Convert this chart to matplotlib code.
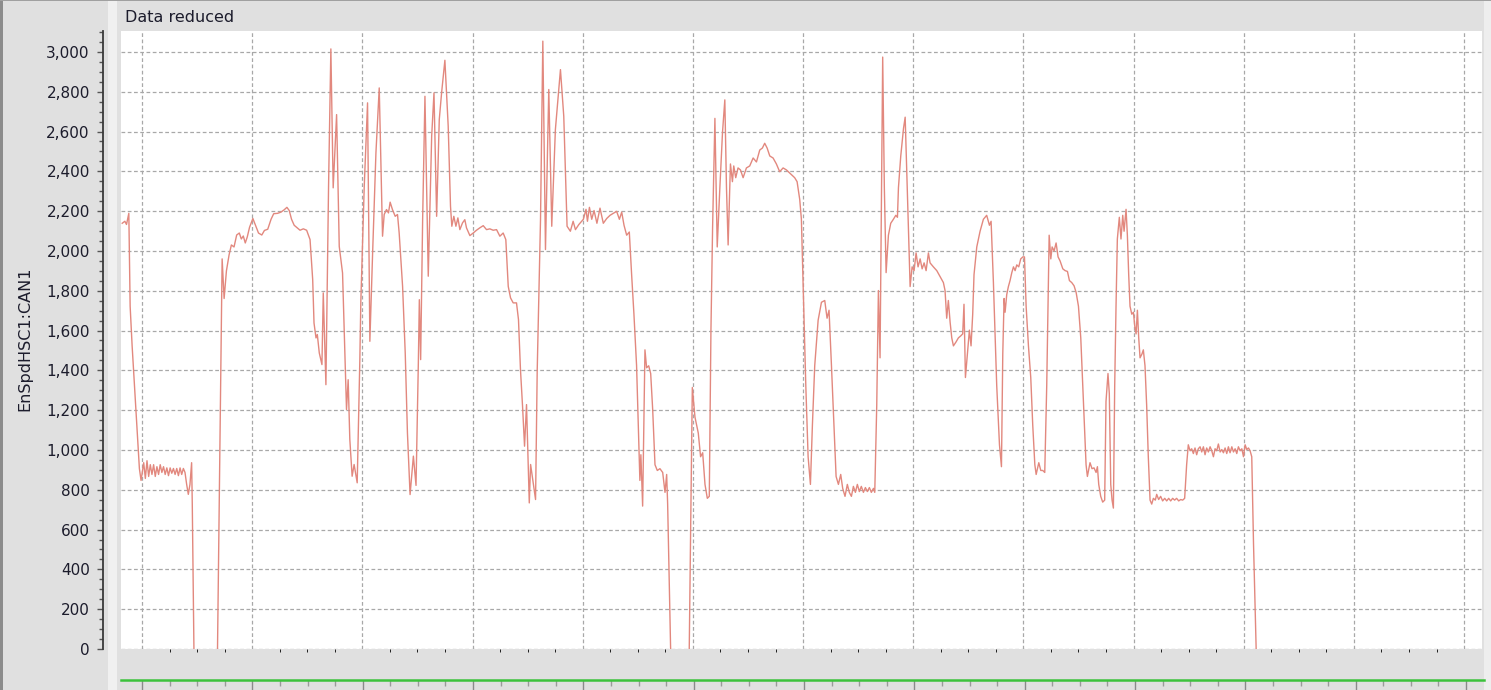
import matplotlib
matplotlib.use("Agg")
import matplotlib.pyplot as plt
import matplotlib.ticker as mtick
from matplotlib.patches import Rectangle
import numpy as np

#-------------------------------------------------------------------------------
# data: (sample time, EnSpdHSC1:CAN1)
# time units are arbitrary, 100 per vertical grid division
seg1 = [(-18.0, 2139), (-15.6, 2149), (-14.1, 2133), (-12.0, 2189), (-10.8, 1722),
        (-9.0, 1523), (-7.5, 1384), (-4.5, 1105), (-2.4, 906), (-0.9, 847),
        (1.5, 936), (3.0, 857), (4.5, 946), (6.0, 867), (7.5, 926), (9.0, 877),
        (10.5, 926), (12.0, 867), (13.5, 916), (15.0, 877), (16.5, 926), (18.0, 887),
        (19.5, 916), (21.0, 877), (22.5, 910), (24.0, 871), (25.5, 910), (27.0, 883),
        (28.5, 907), (30.0, 877), (31.5, 907), (33.0, 871), (34.5, 910), (36.0, 877),
        (37.5, 907), (39.0, 887), (40.5, 827), (42.0, 777), (43.5, 827), (45.0, 936),
        (45.6, 728), (47.1, 0)]

seg2 = [(68.5, 0), (72.7, 1960), (74.5, 1761), (76.6, 1900), (79.0, 1980), (81.1, 2030),
        (83.5, 2020), (85.9, 2080), (88.3, 2090), (90.1, 2060), (91.9, 2075), (93.7, 2040),
        (95.5, 2070), (97.6, 2119), (100.6, 2163), (103.0, 2129), (105.7, 2090),
        (108.7, 2080), (111.1, 2103), (114.1, 2109), (117.1, 2159), (119.5, 2187),
        (123.1, 2189), (126.1, 2195), (129.1, 2207), (131.5, 2219), (133.6, 2203),
        (135.7, 2159), (138.1, 2129), (141.1, 2115), (143.4, 2104), (146.4, 2111),
        (149.4, 2104), (152.5, 2057), (154.9, 1856), (156.1, 1638), (157.9, 1563),
        (159.1, 1580), (160.9, 1487), (163.3, 1429), (164.5, 1789), (166.9, 1328),
        (169.3, 2325), (171.4, 3015), (173.5, 2317), (176.6, 2685), (179.0, 2023),
        (182.0, 1889), (184.1, 1487), (185.6, 1203), (187.1, 1353), (188.6, 1053),
        (190.7, 868), (192.5, 927), (195.3, 835), (197.7, 1454), (198.6, 1747),
        (201.7, 2325), (204.7, 2744), (206.8, 1546), (209.3, 1990), (212.3, 2492),
        (215.3, 2819), (218.3, 2074), (219.8, 2183), (221.9, 2208), (223.7, 2191),
        (225.2, 2245), (227.3, 2208), (229.8, 2174), (231.9, 2183), (233.4, 2090),
        (236.5, 1822), (238.9, 1487), (240.9, 1086), (243.3, 776), (246.3, 969),
        (248.7, 822), (250.8, 1437), (251.7, 1755), (252.9, 1454), (254.7, 2158),
        (256.8, 2777), (259.8, 1873), (262.9, 2576), (265.0, 2794), (267.4, 2174),
        (269.8, 2660), (271.9, 2794), (274.9, 2958), (277.9, 2627), (280.0, 2224),
        (281.2, 2124), (283.0, 2174), (284.9, 2124), (286.7, 2166), (288.5, 2107),
        (290.9, 2141), (293.0, 2157), (294.5, 2116), (297.6, 2077), (300.6, 2090),
        (303.6, 2104), (306.6, 2116), (309.7, 2127), (312.7, 2107), (315.7, 2111),
        (318.7, 2104), (321.8, 2107), (324.8, 2074), (327.8, 2090), (330.2, 2057),
        (332.4, 1822), (334.5, 1764), (336.9, 1739), (339.9, 1739), (341.7, 1655),
        (343.5, 1404), (345.4, 1219), (347.2, 1019), (349.0, 1228), (351.5, 734),
        (352.7, 927), (357.2, 751), (358.7, 1400), (360.2, 1789), (361.7, 2158),
        (363.8, 3054), (366.2, 2007), (369.2, 2811), (371.9, 2124), (375.2, 2610),
        (379.8, 2911), (382.8, 2677), (385.8, 2124), (388.8, 2099), (391.3, 2149),
        (393.4, 2107), (396.4, 2132), (400.6, 2159), (403.0, 2209), (404.3, 2149),
        (406.1, 2219), (408.2, 2159), (410.3, 2203), (412.9, 2139), (415.7, 2215),
        (418.7, 2139), (421.8, 2163), (424.8, 2179), (427.8, 2189), (430.8, 2199),
        (433.3, 2159), (435.4, 2195), (437.5, 2129), (439.9, 2079), (442.3, 2095),
        (444.4, 1881), (446.5, 1682), (448.9, 1423), (450.4, 1125), (451.9, 847),
        (452.8, 976), (454.4, 718), (456.5, 1503), (458.0, 1413), (459.9, 1423),
        (461.7, 1384), (463.5, 1205), (465.6, 926), (467.7, 897), (470.1, 906),
        (472.6, 887), (474.7, 787), (476.2, 877), (477.1, 728), (479.8, 0)]

seg3 = [(496.7, 0), (499.5, 1314), (501.9, 1165), (504.9, 1085), (507.0, 966),
        (508.9, 986), (511.0, 827), (513.1, 757), (514.9, 767), (516.4, 1602),
        (517.9, 2119), (520.0, 2666), (522.1, 2020), (524.5, 2318), (526.9, 2596),
        (529.0, 2759), (530.5, 2318), (532.0, 2030), (534.1, 2437), (535.9, 2348),
        (537.1, 2427), (538.9, 2368), (541.0, 2417), (543.2, 2407), (545.6, 2368),
        (548.6, 2417), (551.6, 2427), (554.7, 2467), (557.7, 2447), (560.7, 2507),
        (563.1, 2517), (565.2, 2541), (567.4, 2517), (569.8, 2477), (572.8, 2467),
        (575.8, 2437), (578.8, 2398), (581.9, 2417), (584.9, 2407), (588.5, 2388),
        (592.4, 2368), (594.6, 2348), (597.0, 2258), (598.5, 2159), (600.6, 1722),
        (602.5, 1324), (604.6, 966), (606.7, 827), (608.5, 1125), (610.6, 1423),
        (613.7, 1652), (616.7, 1742), (619.7, 1751), (621.8, 1662), (623.6, 1702),
        (625.8, 1423), (628.8, 1026), (630.0, 867), (632.1, 827), (634.2, 877),
        (636.0, 807), (638.1, 767), (640.2, 827), (642.0, 787), (643.9, 767),
        (645.7, 817), (647.5, 787), (649.3, 827), (651.1, 791), (652.9, 817),
        (654.8, 787), (656.6, 811), (658.4, 791), (660.2, 811), (662.0, 787),
        (663.9, 807), (665.1, 787), (666.9, 1225), (668.4, 1801), (669.9, 1463),
        (672.3, 2974), (673.8, 2318), (675.4, 1891), (677.5, 2079), (679.6, 2139),
        (682.0, 2159), (684.2, 2179), (685.7, 2169), (686.6, 2318), (688.7, 2477),
        (691.2, 2616), (692.7, 2672), (694.8, 2278), (697.2, 1821), (699.0, 1920),
        (700.8, 1901), (702.6, 1990), (704.4, 1920), (706.3, 1960), (708.1, 1910),
        (709.9, 1940), (711.7, 1901), (713.8, 1990), (715.3, 1940), (718.3, 1920),
        (721.4, 1901), (724.4, 1871), (727.4, 1841), (728.9, 1801), (730.4, 1662),
        (731.9, 1751), (733.5, 1642), (735.0, 1563), (736.5, 1523), (738.9, 1543),
        (741.0, 1563), (743.1, 1573), (744.9, 1583), (746.1, 1732), (747.4, 1364),
        (749.2, 1483), (751.0, 1602), (752.5, 1523), (754.0, 1682), (755.2, 1881),
        (757.7, 2020), (760.7, 2099), (763.7, 2159), (766.7, 2179), (769.2, 2129),
        (770.7, 2149), (772.8, 1841), (775.8, 1324), (778.3, 1026), (780.1, 916),
        (781.3, 1483), (782.5, 1761), (783.4, 1692), (784.9, 1781), (786.4, 1821),
        (787.9, 1851), (789.5, 1891), (791.0, 1920), (792.5, 1901), (794.0, 1930),
        (795.8, 1920), (797.6, 1960), (799.5, 1970), (801.0, 1970), (802.5, 1722),
        (804.6, 1523), (806.7, 1364), (808.5, 1125), (810.4, 926), (811.6, 877),
        (812.8, 906), (814.0, 936), (815.8, 897), (817.6, 897), (819.4, 887),
        (821.2, 1324), (823.4, 2079), (824.9, 1960), (826.1, 2020), (827.9, 2000),
        (829.7, 2040), (831.5, 1970), (833.3, 1950), (835.8, 1910), (837.9, 1901),
        (840.0, 1897), (841.8, 1851), (843.9, 1841), (846.0, 1825), (847.9, 1791),
        (850.0, 1722), (852.1, 1563), (856.9, 926), (858.1, 867), (860.5, 936),
        (862.3, 906), (864.1, 910), (866.0, 887), (867.2, 916), (868.4, 827),
        (870.2, 767), (872.0, 738), (873.8, 748), (875.0, 1244), (876.8, 1384),
        (878.0, 1284), (879.3, 827), (880.5, 748), (881.7, 708), (882.9, 1324),
        (884.1, 1722), (885.3, 2060), (887.1, 2169), (888.6, 2060), (890.2, 2179),
        (891.4, 2099), (893.2, 2209), (894.4, 2079), (895.6, 1881), (896.8, 1722),
        (898.4, 1682), (899.9, 1692), (901.1, 1622), (902.3, 1583), (903.5, 1702),
        (904.7, 1563), (905.9, 1463), (907.7, 1483), (908.9, 1503), (910.4, 1423),
        (911.9, 1225), (913.4, 966), (915.0, 748), (916.5, 728), (918.0, 757),
        (919.8, 748), (921.0, 777), (922.8, 751), (924.6, 767), (926.4, 744),
        (928.3, 757), (930.1, 744), (931.9, 757), (933.7, 744), (935.5, 757),
        (937.3, 748), (939.1, 757), (941.0, 744), (942.8, 751), (944.6, 748),
        (946.4, 757), (948.2, 926), (949.7, 1026), (951.3, 996), (952.8, 1006),
        (954.3, 982), (955.8, 1010), (957.3, 976), (958.8, 1006), (960.4, 1016),
        (961.9, 990), (963.4, 1016), (964.9, 976), (966.4, 1010), (967.9, 990),
        (969.5, 1016), (971.0, 996), (972.5, 966), (974.0, 1006), (975.5, 996),
        (977.0, 1030), (978.6, 990), (980.1, 1002), (981.6, 986), (983.1, 1010),
        (984.6, 982), (986.1, 1016), (987.6, 986), (989.2, 1016), (990.7, 990),
        (992.2, 1006), (993.7, 982), (995.2, 1016), (996.7, 996), (998.3, 1006),
        (999.8, 966), (1001.3, 1026), (1002.8, 1002), (1004.3, 1010), (1005.8, 996),
        (1007.3, 966), (1008.9, 529), (1011.3, 0)]

SIGNAL = "EnSpdHSC1:CAN1"
TITLE = "Data reduced"
X_RANGE = (-19.1, 1216.3)
Y_RANGE = (0, 3105)

#-------------------------------------------------------------------------------
W, H = 1491, 690
BG = '#e0e0e0'
TXT = '#1c1c2c'


def fx(px):
    return px / W


def fy(py):
    return 1 - py / H


def join_segments(*segs):
    """ segments are separated by missing samples (nan) """
    t, v = [], []
    for s in segs:
        if t:
            t.append(np.nan)
            v.append(np.nan)
        t.extend(p[0] for p in s)
        v.extend(p[1] for p in s)
    return np.array(t), np.array(v)


time, speed = join_segments(seg1, seg2, seg3)

fig = plt.figure(figsize=(W / 100, H / 100), dpi=100, facecolor=BG)

# window chrome
fig.add_artist(Rectangle((fx(108), 0), fx(9), 1, transform=fig.transFigure,
                         color='#f0f0f0', lw=0, zorder=0))
fig.add_artist(Rectangle((fx(1484), 0), fx(7), 1, transform=fig.transFigure,
                         color='#eeeeee', lw=0, zorder=0))
fig.add_artist(Rectangle((0, 0), fx(2.5), 1, transform=fig.transFigure,
                         color='#8c8c8c', lw=0, zorder=1))
fig.add_artist(Rectangle((0, fy(1.2)), 1, 1.2 / H, transform=fig.transFigure,
                         color='#a0a0a0', lw=0, zorder=1))

ax = fig.add_axes([fx(121), fy(649), fx(1361), 618 / H])
ax.set_facecolor('white')
ax.plot(time, speed, color='#e2887e', lw=1.0, zorder=3)
ax.set_xlim(*X_RANGE)
ax.set_ylim(*Y_RANGE)

ax.xaxis.set_major_locator(mtick.MultipleLocator(100))
ax.yaxis.set_major_locator(mtick.MultipleLocator(200))
ax.yaxis.set_minor_locator(mtick.MultipleLocator(50))
ax.yaxis.set_major_formatter(mtick.StrMethodFormatter('{x:,.0f}'))
ax.grid(True, which='major', color='#a8a8a8', ls=(0, (3, 2)), lw=0.9)
ax.set_axisbelow(True)

for side in ['top', 'right', 'bottom']:
    ax.spines[side].set_visible(False)
ax.spines['left'].set_position(('outward', 18 * 0.72))
ax.spines['left'].set_color('#3a3a3a')
ax.spines['left'].set_linewidth(1.3)
ax.tick_params(axis='x', length=0, labelbottom=False)
ax.tick_params(axis='y', which='major', length=4.5, width=1, color='#555555',
               pad=5, labelsize=11, labelcolor=TXT)
ax.tick_params(axis='y', which='minor', length=2.8, width=1, color='#555555')

# bottom ruler with green baseline
ax2 = fig.add_axes([fx(121), 0, fx(1363), 10 / H], sharex=ax)
ax2.patch.set_visible(False)
for side in ['left', 'right', 'bottom']:
    ax2.spines[side].set_visible(False)
ax2.spines['top'].set_color('#3cc23c')
ax2.spines['top'].set_linewidth(1.8)
ax2.set_yticks([])
ax2.xaxis.set_minor_locator(mtick.MultipleLocator(25))
ax2.xaxis.tick_top()
ax2.tick_params(axis='x', which='major', direction='in', length=7, width=1,
                color='#8a8a8a', labeltop=False)
ax2.tick_params(axis='x', which='minor', direction='in', length=4, width=1,
                color='#9a9a9a', labeltop=False)

fig.text(fx(125), fy(18), TITLE, ha='left', va='center', fontsize=11.5, color=TXT)
fig.text(fx(24.5), fy(339), SIGNAL, ha='center', va='center', rotation=90,
         fontsize=11.5, color=TXT)

fig.savefig('out.png', dpi=100, facecolor=BG)
plt.close(fig)
